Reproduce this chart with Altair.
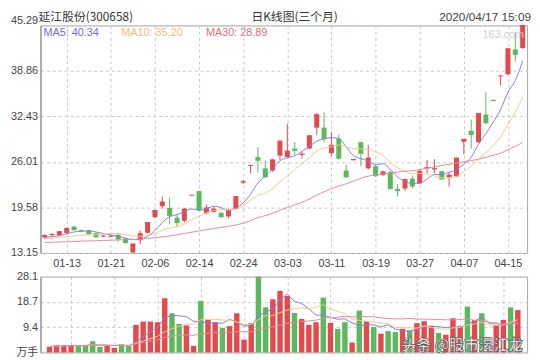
import json
import altair as alt
import pandas as pd

# ---------------- data ----------------
dates = ["01-08", "01-09", "01-10", "01-13", "01-14", "01-15", "01-16", "01-17", "01-20", "01-21",
         "01-22", "01-23", "02-03", "02-04", "02-05", "02-06", "02-07", "02-10", "02-11", "02-12",
         "02-13", "02-14", "02-17", "02-18", "02-19", "02-20", "02-21", "02-24", "02-25", "02-26",
         "02-27", "02-28", "03-02", "03-03", "03-04", "03-05", "03-06", "03-09", "03-10", "03-11",
         "03-12", "03-13", "03-16", "03-17", "03-18", "03-19", "03-20", "03-23", "03-24", "03-25",
         "03-26", "03-27", "03-30", "03-31", "04-01", "04-02", "04-03", "04-07", "04-08", "04-09",
         "04-10", "04-13", "04-14", "04-15", "04-16", "04-17"]

opens = [15.35, 15.68, 15.66, 15.98, 16.87, 16.35, 16.36, 15.95, 15.45, 15.46,
         15.72, 15.18, 13.23, 14.95, 16.0, 18.2, 19.75, 19.5, 18.13, 17.7,
         21.3, 21.88, 18.75, 18.95, 18.8, 18.3, 19.4, 23.1, 25.5, 26.7,
         25.1, 24.8, 26.9, 26.68, 27.9, 27.0, 27.9, 30.85, 30.85, 27.25,
         29.27, 24.8, 26.25, 28.8, 25.1, 25.4, 24.15, 24.6, 22.2, 22.25,
         23.65, 23.0, 25.1, 24.98, 24.7, 23.85, 23.95, 28.85, 30.4, 28.8,
         32.7, 34.7, 38.17, 38.4, 41.9, 42.1]
highs = [15.75, 16.0, 16.25, 16.75, 16.95, 16.5, 16.45, 16.0, 15.7, 15.65,
         15.95, 15.3, 14.45, 16.3, 17.5, 19.2, 21.1, 20.95, 18.5, 19.5,
         21.3, 21.95, 20.0, 19.65, 19.0, 19.45, 21.15, 23.45, 25.6, 28.1,
         26.2, 26.4, 29.0, 31.4, 28.8, 27.45, 29.8, 32.9, 33.0, 30.2,
         29.9, 25.6, 26.4, 28.85, 28.45, 25.6, 24.75, 24.75, 22.9, 23.65,
         24.1, 24.8, 26.3, 26.4, 24.75, 24.5, 26.6, 29.2, 32.0, 32.85,
         35.85, 34.7, 38.17, 41.99, 44.3, 45.29]
lows = [15.15, 15.5, 15.6, 15.9, 16.35, 16.1, 15.75, 15.35, 15.4, 15.35,
        14.75, 14.5, 13.15, 14.4, 15.9, 18.1, 19.4, 17.2, 16.85, 17.45,
        21.3, 19.1, 18.6, 18.85, 18.05, 18.05, 19.35, 22.9, 24.4, 24.5,
        23.8, 24.6, 26.3, 26.6, 27.0, 26.5, 27.8, 29.8, 28.8, 26.8,
        26.3, 23.8, 26.2, 25.45, 24.95, 23.9, 24.0, 22.1, 21.1, 21.9,
        22.25, 22.9, 24.4, 24.4, 23.5, 22.55, 23.85, 27.1, 27.9, 28.7,
        31.3, 34.7, 36.8, 38.3, 40.2, 42.0]
closes = [15.62, 15.74, 16.15, 16.6, 16.42, 16.25, 15.85, 15.42, 15.52, 15.52,
          15.12, 14.62, 14.41, 15.86, 17.45, 19.15, 20.35, 18.45, 17.45, 19.35,
          21.3, 19.3, 19.5, 19.35, 18.3, 19.15, 21.1, 23.2, 25.52, 26.25,
          23.9, 26.3, 28.94, 27.54, 27.65, 27.1, 29.7, 32.68, 29.3, 28.35,
          26.55, 23.9, 26.35, 27.25, 26.55, 24.05, 24.6, 22.25, 21.95, 23.5,
          22.6, 24.7, 25.2, 25.06, 23.6, 24.15, 26.55, 29.2, 29.85, 32.84,
          31.55, 34.7, 38.17, 41.99, 41.2, 45.29]
volumes = [2.1, 2.7, 2.7, 2.7, 2.45, 2.45, 4.15, 2.1, 2.45, 1.7,
           3.05, 2.3, 10.2, 11.45, 11.45, 11.2, 20.1, 14.5, 10.6, 10.0,
           2.45, 19.1, 12.05, 11.2, 9.1, 9.75, 14.5, 4.75, 10.85, 28.1,
           16.7, 19.7, 22.8, 20.9, 14.6, 12.4, 10.2, 11.2, 20.3, 10.95,
           8.75, 11.2, 3.65, 15.5, 11.55, 9.4, 6.95, 7.9, 7.55, 8.75,
           8.2, 10.85, 11.55, 9.75, 7.2, 6.55, 12.65, 9.75, 17.0, 12.05,
           14.5, 0.8, 10.2, 12.05, 16.7, 15.7]

# moving-average values before enough history exists in the window
ma5_head = [15.35, 15.45, 15.6, 15.85]
ma10_head = [15.15, 15.25, 15.35, 15.45, 15.55, 15.62, 15.7, 15.75, 15.8]
ma30_head = [14.62, 14.66, 14.70, 14.74, 14.78, 14.82, 14.85, 14.88, 14.92, 14.95,
             14.98, 15.02, 15.05, 15.12, 15.2, 15.3, 15.42, 15.55, 15.72, 15.9,
             16.08, 16.26, 16.44, 16.6, 16.76, 16.92, 17.1, 17.35, 17.7]

price_ticks = [13.15, 19.58, 26.01, 32.43, 38.86, 45.29]
vol_ticks = [0, 9.4, 18.7, 28.1]
label_idx = list(range(3, len(dates), 6))
ma_legend = ["MA5: 40.34", "MA10: 35.20", "MA30: 28.89"]
title_text = "延江股份(300658)"
chart_name = "日K线图(三个月)"
stamp = "2020/04/17 15:09"
site = "163.com"
watermark = "头条 @股市混江龙"

# ---------------- styles ----------------
RED, GREEN = "#e4494c", "#5cb85c"
C5, C10, C30 = "#8080e0", "#f4c88c", "#ea8a98"
T5, T10, T30 = "#6f6fcf", "#f0bd78", "#e0707e"
FONT = "Liberation Sans"
CJK = "Noto Sans CJK SC"
GRID = "#c8c8c8"
W, H1, H2 = 494, 231, 77

# ---------------- frame ----------------
n = len(dates)
df = pd.DataFrame({"i": list(range(n)), "date": dates, "open": opens, "high": highs,
                   "low": lows, "close": closes, "vol": volumes})
df["dir"] = ["up" if c >= o else "down" for o, c in zip(opens, closes)]
df["blo"] = df[["open", "close"]].min(axis=1)
df["bhi"] = df[["open", "close"]].max(axis=1)
df["xl"] = df["i"] - 0.34
df["xr"] = df["i"] + 0.34


def moving(series, w, head):
    m = series.rolling(w).mean()
    m.iloc[:len(head)] = head
    return m


df["ma5"] = moving(df["close"], 5, ma5_head)
df["ma10"] = moving(df["close"], 10, ma10_head)
df["ma30"] = moving(df["close"], 30, ma30_head)
df["v5"] = df["vol"].rolling(5, min_periods=1).mean()
df["v10"] = df["vol"].rolling(10, min_periods=1).mean()
df["v30"] = df["vol"].rolling(30, min_periods=1).mean()

xscale = alt.Scale(domain=[-0.56, 65.6], nice=False, zero=False)
color = alt.Color("dir:N", scale=alt.Scale(domain=["up", "down"], range=[RED, GREEN]), legend=None)

px_axis = alt.Axis(values=label_idx, labelExpr=json.dumps(dates) + "[datum.value]",
                   grid=True, gridDash=[3, 3], gridColor=GRID, ticks=False, domain=False,
                   labelPadding=5, labelFont=FONT, labelFontSize=11, labelColor="#444", title=None)
vx_axis = alt.Axis(values=label_idx, labels=False, grid=True, gridDash=[3, 3], gridColor=GRID,
                   ticks=False, domain=False, title=None)
py_axis = alt.Axis(values=price_ticks, format=".2f", grid=True, gridDash=[3, 3], gridColor=GRID,
                   ticks=False, domainColor="#888", labelPadding=3, labelFont=FONT,
                   labelFontSize=11, labelColor="#444", minExtent=32, maxExtent=32, title=None,
                   labelBaseline={"condition": {"test": "datum.value > 45", "value": "bottom"},
                                  "value": "middle"})
vy_axis = alt.Axis(values=vol_ticks, labelExpr="datum.value == 0 ? '万手' : format(datum.value, '.1f')",
                   grid=True, gridDash=[3, 3], gridColor=GRID, ticks=False, domainColor="#888",
                   labelPadding=3, labelFont=FONT + ", " + CJK, labelFontSize=11, labelColor="#444",
                   minExtent=32, maxExtent=32, title=None)
pyscale = alt.Scale(domain=[13.15, 45.29], nice=False, zero=False)
vyscale = alt.Scale(domain=[0, 28.1], nice=False, zero=False)


def PX(f):
    return alt.X(f, scale=xscale, axis=px_axis)


def PY(f):
    return alt.Y(f, scale=pyscale, axis=py_axis)


def VX(f):
    return alt.X(f, scale=xscale, axis=vx_axis)


def VY(f):
    return alt.Y(f, scale=vyscale, axis=vy_axis)


base = alt.Chart(df)
wicks = base.mark_rule(strokeWidth=1).encode(x=PX("i:Q"), y=PY("low:Q"), y2="high:Q", color=color)
bodies = base.mark_rect().encode(x=PX("xl:Q"), x2="xr:Q", y=PY("blo:Q"), y2="bhi:Q", color=color)
dash = base.mark_rule(strokeWidth=1).encode(x=PX("xl:Q"), x2="xr:Q", y=PY("close:Q"), color=color)
l5 = base.mark_line(color=C5, strokeWidth=1, interpolate="monotone").encode(x=PX("i:Q"), y=PY("ma5:Q"))
l10 = base.mark_line(color=C10, strokeWidth=1, interpolate="monotone").encode(x=PX("i:Q"), y=PY("ma10:Q"))
l30 = base.mark_line(color=C30, strokeWidth=1, interpolate="monotone").encode(x=PX("i:Q"), y=PY("ma30:Q"))


def label(text, x, y, align, font, size, col, baseline="alphabetic", **kw):
    return alt.Chart(pd.DataFrame({"t": [text]})).mark_text(
        align=align, baseline=baseline, font=font, fontSize=size, color=col, **kw
    ).encode(x=alt.value(x), y=alt.value(y), text="t:N")


headers = [
    label(title_text, -2, -4, "left", CJK, 12, "#333"),
    label(chart_name, 258, -4, "center", CJK, 12, "#333"),
    label(stamp, 498, -4, "right", FONT, 12, "#444"),
    label(ma_legend[0], 3, 8, "left", FONT, 11, T5, baseline="middle"),
    label(ma_legend[1], 82, 8, "left", FONT, 11, T10, baseline="middle"),
    label(ma_legend[2], 168, 8, "left", FONT, 11, T30, baseline="middle"),
    label(site, 491, 10, "right", FONT, 11, "#cfcfcf", baseline="middle"),
]

price = alt.layer(wicks, bodies, dash, l5, l10, l30, *headers).properties(width=W, height=H1)

vbars = base.mark_bar(size=5.5).encode(x=VX("i:Q"), y=VY("vol:Q"), color=color)
vl5 = base.mark_line(color=C5, strokeWidth=1).encode(x=VX("i:Q"), y=VY("v5:Q"))
vl10 = base.mark_line(color=C10, strokeWidth=1).encode(x=VX("i:Q"), y=VY("v10:Q"))
vl30 = base.mark_line(color=C30, strokeWidth=1).encode(x=VX("i:Q"), y=VY("v30:Q"))
wm = label(watermark, 490, 70, "right", CJK, 15, "#ffffff", baseline="middle",
           stroke="#555555", strokeWidth=0.7, fontWeight="bold")

volume = alt.layer(vbars, vl5, vl10, vl30, wm).properties(width=W, height=H2)

chart = alt.vconcat(price, volume, spacing=0).properties(
    padding={"left": 0, "top": 0, "right": 0, "bottom": 0}
).configure_view(stroke="#a8a8a8", strokeWidth=1)

chart.save("out.html", embed_options={"renderer": "svg", "actions": False})
